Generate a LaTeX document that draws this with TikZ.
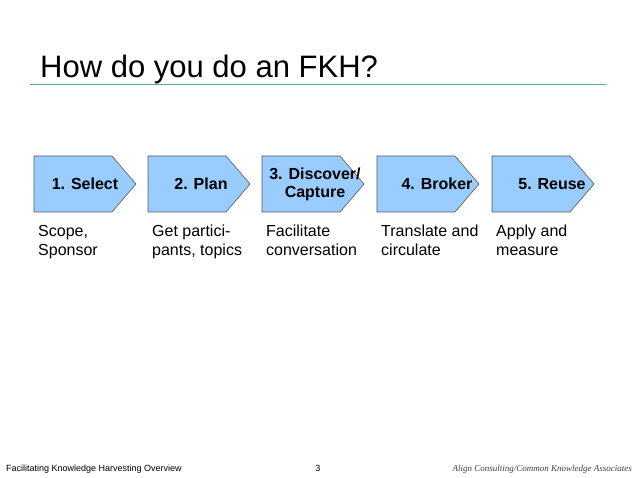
\documentclass[tikz,border=0pt]{standalone}
\usepackage{fontspec}
\setmainfont{Liberation Sans}
\newfontfamily\footserif{Liberation Serif}
\begin{document}
\begin{tikzpicture}[x=1pt,y=-1pt,
  chev/.style={draw=black!65,fill=chevfill,line width=0.6pt},
  ctext/.style={font=\bfseries\fontsize{16}{18}\selectfont,align=center,inner sep=0},
  ltext/.style={font=\fontsize{16}{19}\selectfont,align=left,anchor=north west,inner sep=0}]
\definecolor{chevfill}{RGB}{153,204,255}
\definecolor{rule}{RGB}{80,170,170}
\useasboundingbox (0,0) rectangle (638,478);
\node[anchor=base west,inner sep=0,font=\fontsize{31}{34}\selectfont] (title) at (40,78) {How do you do an FKH?};
\coordinate (r1) at (30,84); \coordinate (r2) at (606,84);
\draw[rule,line width=0.8pt] (r1) -- (r2);
\foreach \i/\x/\dx/\t/\l in {1/34/51/{1. Select}/{Scope,\\Sponsor},
  2/148/53/{2. Plan}/{Get partici-\\pants, topics},
  3/262/53/{3. Discover/\\Capture}/{Facilitate\\conversation},
  4/377/60/{4. Broker}/{Translate and\\circulate},
  5/492/60/{5. Reuse}/{Apply and\\measure}}{
  \draw[chev] (\x,156) -- ++(78,0) -- ++(24,28) -- ++(-24,28) -- ++(-78,0) -- cycle;
  \node[ctext] (c\i) at (\x+\dx,184) {\t};
  \node[ltext] (l\i) at (\x+4,225) {\l};
}
\node[anchor=base west,inner sep=0,font=\fontsize{9}{10}\selectfont] (f1) at (6,472) {Facilitating Knowledge Harvesting Overview};
\node[anchor=base,inner sep=0,font=\fontsize{9}{10}\selectfont] (f2) at (318,472) {3};
\node[anchor=base east,inner sep=0,font=\footserif\itshape\fontsize{9}{10}\selectfont,text=black!75] (f3) at (632,472) {Align Consulting/Common Knowledge Associates};
\end{tikzpicture}
\end{document}
